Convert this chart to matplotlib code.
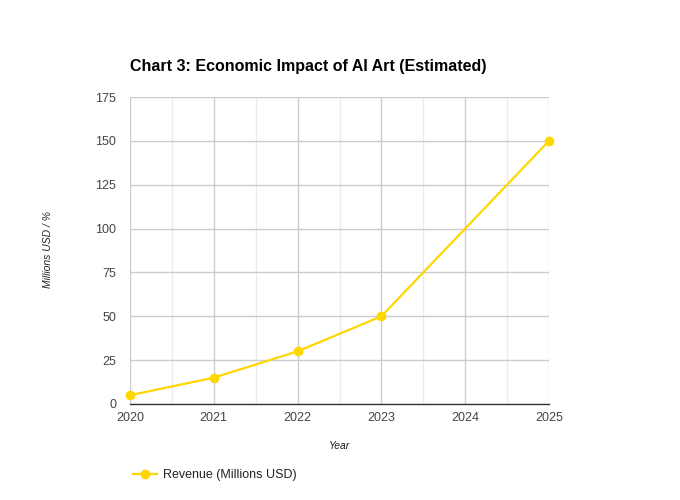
import matplotlib
matplotlib.use("Agg")
import matplotlib.pyplot as plt
from matplotlib.lines import Line2D

plt.rcParams['font.family'] = ['Liberation Sans', 'DejaVu Sans']

years = [2020, 2021, 2022, 2023, 2025]
revenue = [5, 15, 30, 50, 150]
y_ticks = [0, 25, 50, 75, 100, 125, 150, 175]
x_ticks = [2020, 2021, 2022, 2023, 2024, 2025]

gold = "#FFD700"

fig = plt.figure(figsize=(6.8, 5.0), dpi=100)
ax = fig.add_axes([130/680, 1 - 404/500, (549-130)/680, (404-97)/500])

ax.set_xlim(2020, 2025)
ax.set_ylim(0, 175)
ax.set_xticks(x_ticks)
ax.set_xticks([y + 0.5 for y in x_ticks[:-1]], minor=True)
ax.set_yticks(y_ticks)
ax.grid(True, which="major", color="#cccccc", linewidth=1)
ax.grid(True, which="minor", axis="x", color="#ebebeb", linewidth=1)
ax.set_axisbelow(True)

for s in ["top", "right", "left"]:
    ax.spines[s].set_visible(False)
ax.spines["bottom"].set_color("#333333")
ax.spines["bottom"].set_linewidth(1)
ax.tick_params(which="both", length=0)
ax.tick_params(axis="both", labelsize=9, labelcolor="#444444")
ax.tick_params(axis="x", pad=6)
ax.tick_params(axis="y", pad=10)

# no 2024 point in the source data, line just runs through it
ax.plot(years, revenue, color=gold, linewidth=1.6, marker="o", markersize=6,
        clip_on=False, zorder=3)

fig.text(130/680, 1 - 67/500, "Chart 3: Economic Impact of AI Art (Estimated)",
         fontsize=11.5, fontweight="bold", va="center", ha="left", color="#000000")
fig.text(48/680, 1 - 250/500, "Millions USD / %", rotation=90, style="italic",
         fontsize=7.5, va="center", ha="center", color="#222222")
fig.text(340/680, 1 - 446/500, "Year", style="italic", fontsize=7.5,
         va="center", ha="center", color="#222222")

handle = Line2D([], [], color=gold, linewidth=1.6, marker="o", markersize=6)
fig.legend([handle], ["Revenue (Millions USD)"], loc="center left",
           bbox_to_anchor=(122/680, 1 - 475/500), frameon=False, fontsize=9,
           handlelength=1.9, handletextpad=0.45, labelcolor="#222222")

fig.savefig("out.png", dpi=100)
